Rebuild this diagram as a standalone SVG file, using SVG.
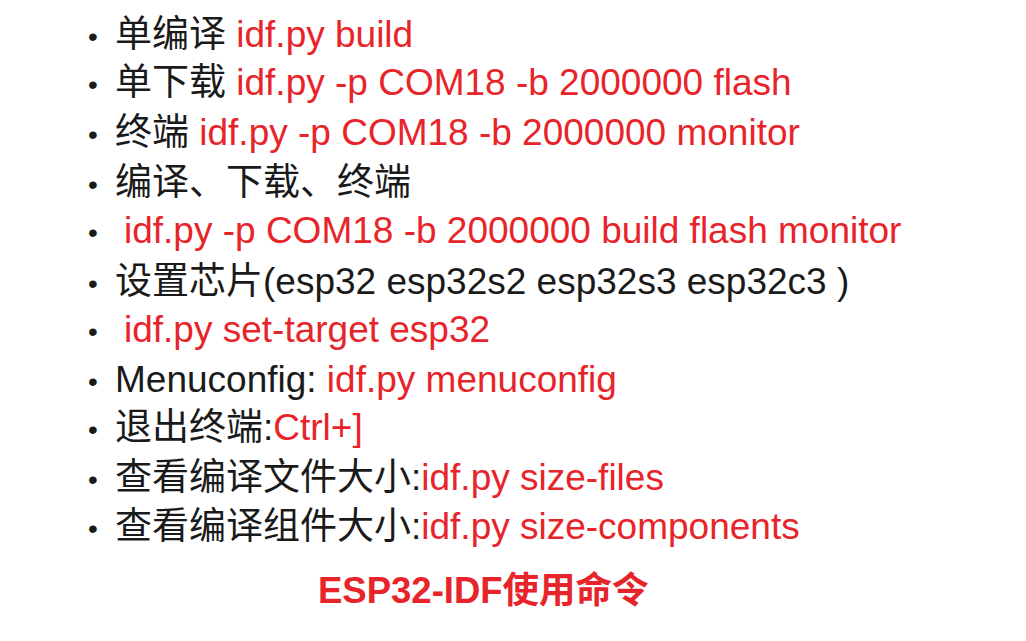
<svg xmlns="http://www.w3.org/2000/svg" width="1026" height="641" viewBox="0 0 1026 641">
<style>
text{font-family:"Liberation Sans","Noto Sans CJK SC",sans-serif;font-size:37px;fill:#1a1a1a}
.r{fill:#e8242b}
.b{font-size:28px}
.t{font-weight:bold;font-size:36.5px;fill:#e8242b}
</style>
<rect width="1026" height="641" fill="#ffffff"/>
<g id="bullets">
<text class="b" x="88" y="46">•</text>
<text class="b" x="88" y="94">•</text>
<text class="b" x="88" y="144">•</text>
<text class="b" x="88" y="194">•</text>
<text class="b" x="88" y="242">•</text>
<text class="b" x="88" y="293">•</text>
<text class="b" x="88" y="341">•</text>
<text class="b" x="88" y="391">•</text>
<text class="b" x="88" y="439">•</text>
<text class="b" x="88" y="489">•</text>
<text class="b" x="88" y="538">•</text>
</g>
<g id="lines">
<text x="115" y="47">单编译 <tspan class="r">idf.py build</tspan></text>
<text x="115" y="95">单下载 <tspan class="r">idf.py -p COM18 -b 2000000 flash</tspan></text>
<text x="115" y="145">终端 <tspan class="r">idf.py -p COM18 -b 2000000 monitor</tspan></text>
<text x="115" y="195">编译、下载、终端</text>
<text class="r" x="124" y="243">idf.py -p COM18 -b 2000000 build flash monitor</text>
<text x="115" y="294">设置芯片(esp32 esp32s2 esp32s3 esp32c3 )</text>
<text class="r" x="124" y="342">idf.py set-target esp32</text>
<text x="115" y="392">Menuconfig: <tspan class="r">idf.py menuconfig</tspan></text>
<text x="115" y="440">退出终端:<tspan class="r">Ctrl+]</tspan></text>
<text x="115" y="490">查看编译文件大小:<tspan class="r">idf.py size-files</tspan></text>
<text x="115" y="539">查看编译组件大小:<tspan class="r">idf.py size-components</tspan></text>
</g>
<g id="title"><text class="t" x="318" y="603">ESP32-IDF使用命令</text></g>
</svg>
